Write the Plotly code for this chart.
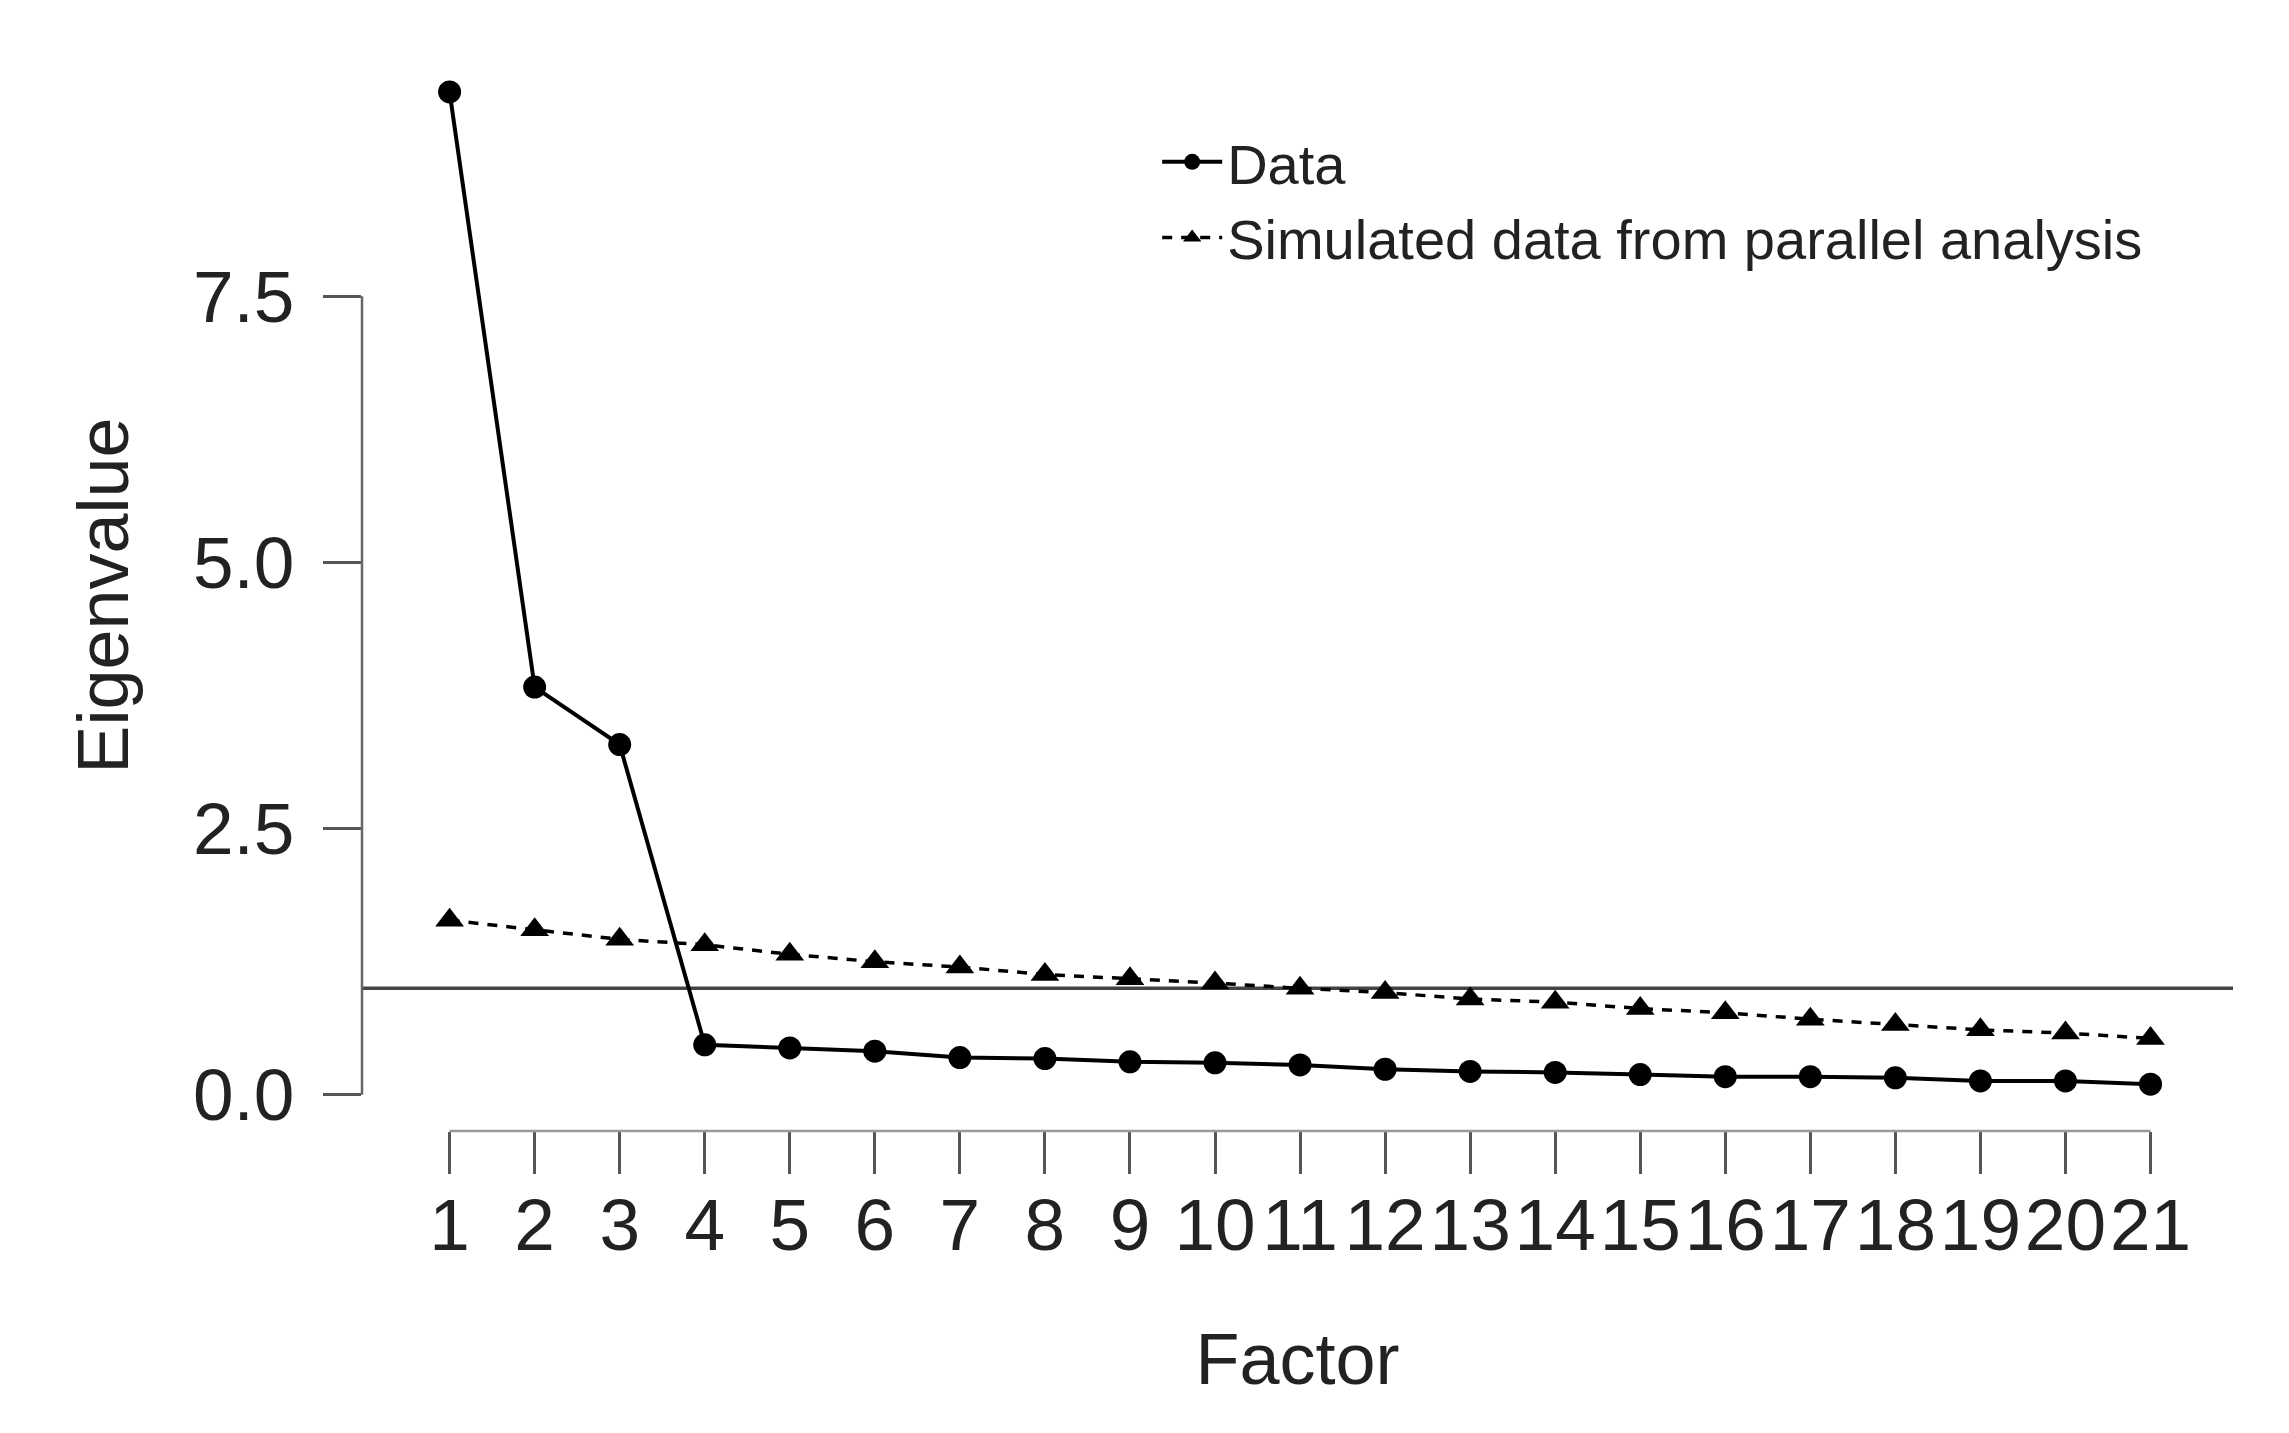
import plotly.graph_objects as go

factors = list(range(1, 22))
data_eigen = [9.42, 3.83, 3.29, 0.47, 0.44, 0.41, 0.35, 0.34, 0.31, 0.30, 0.28,
              0.24, 0.22, 0.21, 0.19, 0.17, 0.17, 0.16, 0.13, 0.13, 0.10]
sim_eigen = [1.64, 1.55, 1.46, 1.41, 1.32, 1.25, 1.20, 1.13, 1.09, 1.05, 1.00,
             0.96, 0.90, 0.87, 0.81, 0.77, 0.71, 0.66, 0.61, 0.58, 0.53]
y_ticks = [0, 2.5, 5.0, 7.5]
kaiser = 1.0

FONT = "Liberation Sans, Arial, sans-serif"
TXT = "#222222"

fig = go.Figure()
fig.add_trace(go.Scatter(
    x=factors, y=data_eigen, name="Data", mode="lines+markers",
    line=dict(color="black", width=4),
    marker=dict(symbol="circle", size=23, color="black"),
))
fig.add_trace(go.Scatter(
    x=factors, y=sim_eigen, name="Simulated data from parallel analysis",
    mode="lines+markers",
    line=dict(color="black", width=3.5, dash="10px,9px"),
    marker=dict(symbol="triangle-up", size=25, color="black"),
))

# Kaiser line
fig.add_shape(type="line", xref="paper", yref="y", x0=0, x1=1, y0=kaiser, y1=kaiser,
              line=dict(color="#444444", width=3.5), layer="below")
# y axis line spanning tick range
fig.add_shape(type="line", xref="paper", yref="y", x0=0, x1=0, y0=y_ticks[0], y1=y_ticks[-1],
              line=dict(color="#666666", width=2.5))
# x axis line spanning tick range
fig.add_shape(type="line", xref="x", yref="paper", x0=factors[0], x1=factors[-1], y0=0, y1=0,
              line=dict(color="#999999", width=2.5))

fig.update_layout(
    width=2289, height=1433,
    margin=dict(l=362, r=56, t=60, b=302, autoexpand=False),
    paper_bgcolor="white", plot_bgcolor="white",
    font=dict(family=FONT, color=TXT),
    showlegend=True,
    legend=dict(
        x=0.425, y=0.945, xanchor="left", yanchor="top",
        bgcolor="rgba(0,0,0,0)", borderwidth=0,
        font=dict(size=56, family=FONT, color=TXT),
        itemwidth=60, tracegroupgap=0,
    ),
    xaxis=dict(
        range=[-0.03, 21.97], tickmode="array", tickvals=factors,
        ticktext=[str(f) for f in factors],
        showgrid=False, zeroline=False, showline=False,
        ticks="outside", ticklen=42, tickwidth=2.5, tickcolor="#555555",
        tickangle=0, tickfont=dict(size=73, family=FONT, color=TXT),
        ticklabelstandoff=-12,
        title=dict(text="Factor", font=dict(size=72, family=FONT, color=TXT), standoff=70),
        automargin=False,
    ),
    yaxis=dict(
        range=[-0.34, 9.72], tickmode="array", tickvals=y_ticks,
        tickformat=".1f",
        showgrid=False, zeroline=False, showline=False,
        ticks="outside", ticklen=38, tickwidth=2.5, tickcolor="#555555",
        tickfont=dict(size=73, family=FONT, color=TXT),
        ticklabelstandoff=14,
        title=dict(text="Eigenvalue", font=dict(size=72, family=FONT, color=TXT), standoff=40),
        automargin=False,
    ),
)

fig.write_html("out.html")
